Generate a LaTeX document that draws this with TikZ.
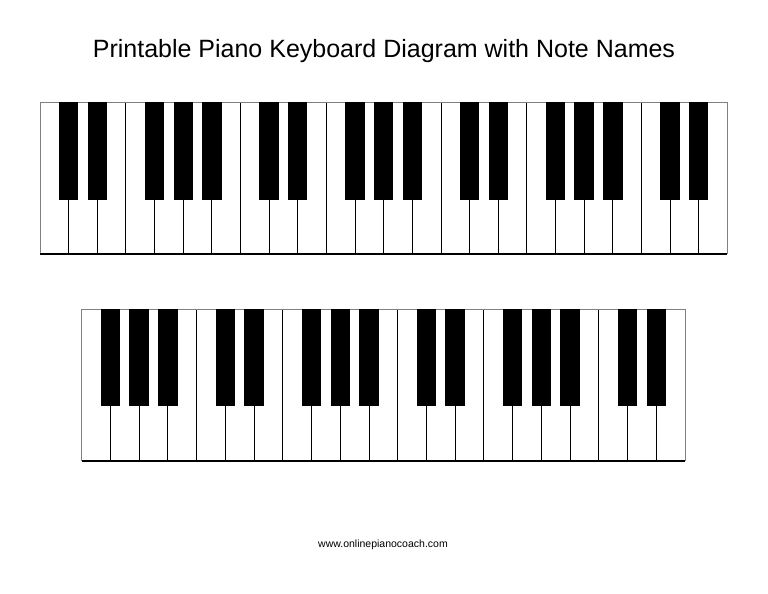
\documentclass[tikz,border=0pt]{standalone}
\usepackage{fontspec}
\setmainfont{Liberation Sans}
\begin{document}
\begin{tikzpicture}[x=1pt,y=-1pt]
        \tikzset{keyline/.style={black, line width=0.9pt},
                 keyedge/.style={gray, line width=0.9pt},
                 keybase/.style={black, line width=1.8pt},
                 blackkey/.style={fill=black}}
        \useasboundingbox (0,0) rectangle (768,594);
        \node (title) [anchor=base, font=\fontsize{25}{30}\selectfont] at (384,58) {Printable Piano Keyboard Diagram with Note Names};
        % upper keyboard, C up to E, 24 white keys
        \def\kwa{28.64}
        \foreach \i in {1,...,23}
            \draw [keyline] (40+\i*\kwa,102) -- (40+\i*\kwa,254);
        \draw [keyedge] (40,254) -- (40,102) -- (727.4,102) -- (727.4,254);
        \draw [keybase] (40,254) -- (727.4,254);
        \foreach \i in {1,2,4,5,6,8,9,11,12,13,15,16,18,19,20,22,23}
            \fill [blackkey] (40+\i*\kwa-9.7,102) rectangle (40+\i*\kwa+9.7,200);
        % lower keyboard, F up to E, 21 white keys
        \def\kwb{28.73}
        \foreach \i in {1,...,20}
            \draw [keyline] (81.7+\i*\kwb,309) -- (81.7+\i*\kwb,461);
        \draw [keyedge] (81.7,461) -- (81.7,309) -- (685,309) -- (685,461);
        \draw [keybase] (81.7,461) -- (685,461);
        \foreach \i in {1,2,3,5,6,8,9,10,12,13,15,16,17,19,20}
            \fill [blackkey] (81.7+\i*\kwb-9.7,309) rectangle (81.7+\i*\kwb+9.7,406);
        \node (site) [anchor=base, font=\fontsize{10.5}{12}\selectfont] at (383,547) {www.onlinepianocoach.com};
    \end{tikzpicture}
\end{document}
